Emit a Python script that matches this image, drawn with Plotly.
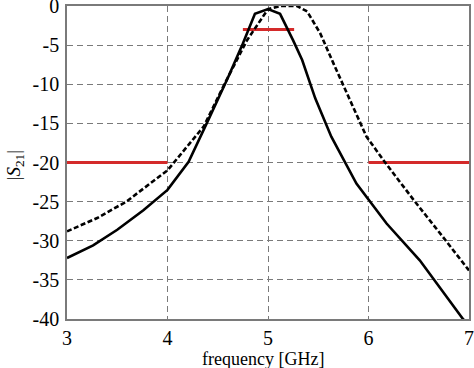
import plotly.graph_objects as go

# Data
solid_x = [3.0, 3.26, 3.5, 3.76, 4.0, 4.21, 4.39, 4.5, 4.6, 4.75, 4.87, 5.0, 5.12, 5.25, 5.34, 5.47, 5.63, 5.88, 6.0, 6.18, 6.51, 6.94, 7.0]
solid_y = [-32.2, -30.6, -28.6, -26.1, -23.5, -19.9, -15.0, -12.0, -9.2, -4.8, -1.0, -0.4, -1.0, -4.4, -6.9, -11.8, -16.7, -22.7, -24.8, -27.8, -32.5, -40.0, -40.8]

dashed_x = [3.0, 3.3, 3.59, 4.0, 4.36, 4.57, 4.79, 5.0, 5.12, 5.29, 5.39, 5.52, 5.65, 5.98, 6.16, 6.45, 6.74, 7.0]
dashed_y = [-28.8, -27.1, -25.0, -21.0, -15.4, -9.9, -4.4, -0.4, 0.0, 0.0, -0.7, -3.5, -7.3, -16.7, -19.9, -24.8, -29.5, -33.8]

# Specification masks (red)
mask_low_x = [3.0, 4.0]
mask_low_y = [-20, -20]
mask_pass_x = [4.75, 5.26]
mask_pass_y = [-3, -3]
mask_high_x = [6.0, 7.0]
mask_high_y = [-20, -20]

x_ticks = [3, 4, 5, 6, 7]
y_ticks = [0, -5, -10, -15, -20, -25, -30, -35, -40]

FONT = "Liberation Serif, Times New Roman, serif"
RED = "#d42a2a"

fig = go.Figure()
for mx, my in [(mask_low_x, mask_low_y), (mask_pass_x, mask_pass_y), (mask_high_x, mask_high_y)]:
    fig.add_trace(go.Scatter(x=mx, y=my, mode="lines",
                             line=dict(color=RED, width=2.8), showlegend=False))
fig.add_trace(go.Scatter(x=dashed_x, y=dashed_y, mode="lines",
                         line=dict(color="black", width=2.6, dash="5px,2.5px"), showlegend=False))
fig.add_trace(go.Scatter(x=solid_x, y=solid_y, mode="lines",
                         line=dict(color="black", width=2.6), showlegend=False))

axis_common = dict(
    showgrid=True, gridcolor="#7a7a7a", gridwidth=1.3, griddash="6px,4px",
    showline=True, linecolor="#7a7a7a", linewidth=1.5, mirror=True,
    zeroline=False, ticks="", ticklabeloverflow="allow", automargin=False,
    tickfont=dict(family=FONT, size=20, color="black"),
)

fig.update_layout(
    width=474, height=368,
    margin=dict(l=67, r=5, t=6, b=49),
    paper_bgcolor="white", plot_bgcolor="white",
    font=dict(family=FONT, color="black"),
    xaxis=dict(range=[3, 7], tickvals=x_ticks, ticktext=[str(v) for v in x_ticks], **axis_common),
    yaxis=dict(range=[-40, 0], tickvals=y_ticks, ticktext=[str(v) for v in y_ticks],
               ticklabelstandoff=2, **axis_common),
    annotations=[
        dict(text="frequency [GHz]", xref="paper", yref="paper", x=0.488, y=-0.127,
             xanchor="center", yanchor="middle", showarrow=False,
             font=dict(family=FONT, size=18, color="black")),
        dict(text="|<i>S</i><sub>21</sub>|", xref="paper", yref="paper", x=-0.13, y=0.49,
             xanchor="center", yanchor="middle", showarrow=False, textangle=-90,
             font=dict(family=FONT, size=19, color="black")),
    ],
)

fig.write_html("out.html", config={"displayModeBar": False},
               post_script="document.body.style.margin='0';document.body.style.padding='0';")
